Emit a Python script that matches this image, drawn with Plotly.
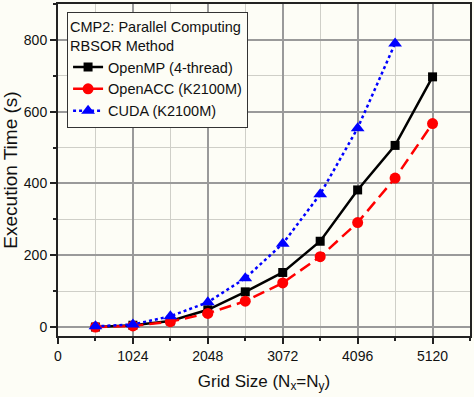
import plotly.graph_objects as go

grid_sizes = [512, 1024, 1536, 2048, 2560, 3072, 3584, 4096, 4608, 5120]
openmp = [0, 5, 17, 48, 98, 152, 239, 382, 506, 697]
openacc = [0, 3, 15, 38, 72, 123, 196, 291, 415, 567]
cuda_x = [512, 1024, 1536, 2048, 2560, 3072, 3584, 4096, 4608]
cuda = [2, 7, 30, 69, 136, 232, 370, 554, 790]
x_ticks = [0, 1024, 2048, 3072, 4096, 5120]
y_ticks = [0, 200, 400, 600, 800]

font = "Liberation Sans, Arial, sans-serif"
xr = [0, 5632]
yr = [-25, 900]
bg = "#fdfdf6"
W, H = 474, 397

fig = go.Figure()
fig.add_trace(go.Scatter(x=grid_sizes, y=openmp, name="OpenMP (4-thread)",
                         mode="lines+markers",
                         line=dict(color="black", width=2.5),
                         marker=dict(symbol="square", size=9, color="black")))
fig.add_trace(go.Scatter(x=grid_sizes, y=openacc, name="OpenACC (K2100M)",
                         mode="lines+markers",
                         line=dict(color="#ff0000", width=2.5, dash="12px,6px"),
                         marker=dict(symbol="circle", size=11, color="#ff0000")))
fig.add_trace(go.Scatter(x=cuda_x, y=cuda, name="CUDA (K2100M)",
                         mode="lines+markers",
                         line=dict(color="#0000ff", width=2.5, dash="dot"),
                         marker=dict(symbol="triangle-up", size=12, color="#0000ff")))

fig.update_layout(
    width=W, height=H,
    margin=dict(l=58, r=4, t=4, b=61),
    paper_bgcolor=bg, plot_bgcolor=bg,
    font=dict(family=font, size=14, color="#111"),
    showlegend=True,
    legend=dict(
        x=0.022, y=0.975, xanchor="left", yanchor="top",
        bgcolor=bg, bordercolor="#333", borderwidth=1,
        font=dict(size=14.5, color="#111"),
        title=dict(text="CMP2: Parallel Computing<br>RBSOR Method", font=dict(size=14.5)),
        tracegroupgap=0, itemwidth=30,
    ),
)
fig.update_xaxes(
    range=xr, tickvals=x_ticks, ticktext=[str(v) for v in x_ticks],
    showline=True, linecolor="#222", linewidth=2, mirror=True,
    ticks="outside", ticklen=6, tickwidth=1.5, tickcolor="#222",
    showgrid=True, gridcolor="#9a9a9a", gridwidth=1.5, zeroline=False,
    minor=dict(dtick=512, tick0=0, ticks="outside", ticklen=3, tickwidth=1.5,
               tickcolor="#222", showgrid=True, gridcolor="#cfcfc8", gridwidth=1),
    title_text="Grid Size (N<sub>x</sub>=N<sub>y</sub>)", title_font_size=17, title_standoff=12,
    tickfont_size=14, automargin=False,
)
fig.update_yaxes(
    range=yr, tickvals=y_ticks,
    showline=True, linecolor="#222", linewidth=2, mirror=True,
    ticks="outside", ticklen=6, tickwidth=1.5, tickcolor="#222",
    showgrid=True, gridcolor="#9a9a9a", gridwidth=1.5, zeroline=False,
    minor=dict(dtick=100, tick0=0, ticks="outside", ticklen=3, tickwidth=1.5,
               tickcolor="#222", showgrid=True, gridcolor="#cfcfc8", gridwidth=1),
    title_text="Execution Time (s)", title_font_size=19, title_standoff=6,
    tickfont_size=14, automargin=False,
)

fig.write_html("out.html", config={"displayModeBar": False},
               post_script="document.body.style.margin='0';document.body.style.background='#fdfdf6';")
